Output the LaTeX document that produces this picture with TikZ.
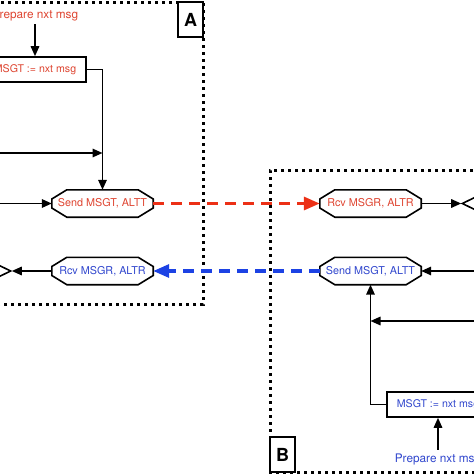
\documentclass[tikz,border=0pt]{standalone}
\usepackage{fontspec}
\setmainfont{TeX Gyre Heros}
\usetikzlibrary{arrows.meta,calc,shapes.geometric}
\definecolor{tred}{RGB}{222,68,48}
\definecolor{dred}{RGB}{236,48,22}
\definecolor{tblue}{RGB}{48,70,205}
\definecolor{dblue}{RGB}{28,66,228}
\newcommand\octo[1]{\draw[plain] ([yshift=4.5pt]#1.west) -- ([xshift=15pt]#1.north west) -- ([xshift=-15pt]#1.north east) -- ([yshift=4.5pt]#1.east) -- ([yshift=-4.5pt]#1.east) -- ([xshift=-15pt]#1.south east) -- ([xshift=15pt]#1.south west) -- ([yshift=-4.5pt]#1.west) -- cycle;}
\tikzset{
  octbox/.style={minimum width=101pt, minimum height=27pt, inner sep=0pt, font=\fontsize{10.8}{13}\selectfont},
  msgbox/.style={draw, line width=1.6pt, minimum width=102pt, minimum height=25pt, inner sep=0pt, font=\fontsize{10.6}{12}\selectfont, fill=white},
  plain/.style={line width=1.6pt},
  conn/.style={line width=1.6pt, -{Triangle[length=10pt,width=8.5pt]}},
  region/.style={line width=3pt, dash pattern=on 3pt off 4pt},
  lbl/.style={draw, line width=1.4pt, fill=white, minimum width=25pt, minimum height=35pt, inner sep=0pt, font=\fontsize{18}{20}\selectfont\bfseries},
  msgline/.style={line width=3.2pt, dash pattern=on 11pt off 7pt, -{Triangle[length=16pt,width=13pt]}},
  prep/.style={inner sep=3.5pt, font=\fontsize{11.8}{14}\selectfont},
  diam/.style={draw, line width=1.6pt, diamond, aspect=2, minimum width=24pt, minimum height=12pt, inner sep=0pt}
}
\begin{document}
\begin{tikzpicture}[x=1pt,y=-1pt]
\useasboundingbox (0,0) rectangle (474,474);
% regions
\draw[region] (-20,2) -- (203,2) -- (203,304) -- (-20,304);
\draw[region] (494,170) -- (270,170) -- (270,472) -- (494,472);
\node[lbl] (labA) at (190.5,19.5) {A};
\node[lbl] (labB) at (282.5,454.5) {B};
% left side (A)
\node[prep, text=tred] (prepL) at (35,15) {Prepare nxt msg};
\node[msgbox, text=tred] (msgL) at (35,69.5) {MSGT := nxt msg};
\node[octbox, text=tred] (sendL) at (102.5,203.5) {Send MSGT, ALTT};
\node[octbox, text=tblue] (rcvL) at (102.5,271) {Rcv MSGR, ALTR};
\octo{sendL}
\octo{rcvL}
\node[diam] (diaL) at (-1,271) {};
\coordinate (inL1) at (-10,153);
\coordinate (inL2) at (-10,203.5);
% right side (B)
\node[prep, text=tblue] (prepR) at (438,459) {Prepare nxt msg};
\node[msgbox, text=tblue] (msgR) at (438,404.5) {MSGT := nxt msg};
\node[octbox, text=tred] (rcvR) at (370.5,203.5) {Rcv MSGR, ALTR};
\node[octbox, text=tblue] (sendR) at (370.5,271) {Send MSGT, ALTT};
\octo{rcvR}
\octo{sendR}
\node[diam] (diaR) at (474,203.5) {};
\coordinate (inR1) at (484,321);
\coordinate (inR2) at (484,271);
% connectors left
\draw[conn] (prepL.south) -- (msgL.north);
\draw[conn] (msgL.east) -| (sendL.north);
\draw[conn] (inL1) -- (inL1 -| sendL.north);
\draw[conn] (inL2) -- (sendL.west);
\draw[conn] (rcvL.west) -- (diaL.east);
% connectors right
\draw[conn] (prepR.north) -- (msgR.south);
\draw[conn] (msgR.west) -| (sendR.south);
\draw[conn] (inR1) -- (inR1 -| sendR.south);
\draw[conn] (inR2) -- (sendR.east);
\draw[conn] (rcvR.east) -- (diaR.west);
% messages
\draw[msgline, dred] (sendL.east) -- (rcvR.west);
\draw[msgline, dblue] (sendR.west) -- (rcvL.east);
\end{tikzpicture}
\end{document}
